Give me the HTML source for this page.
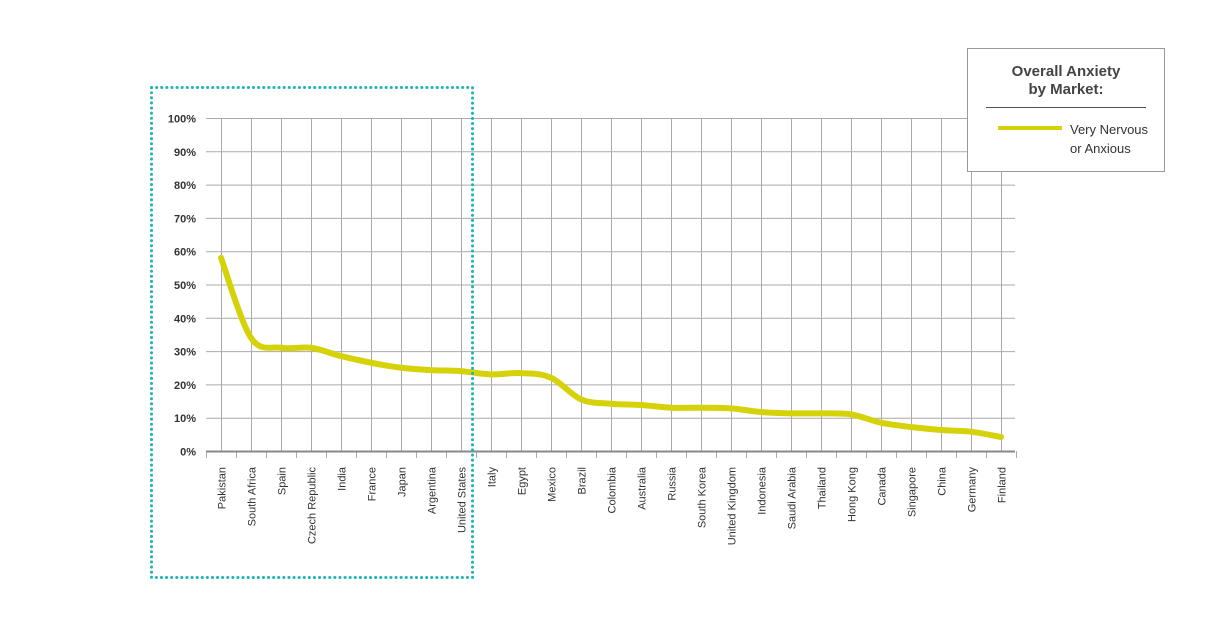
<!DOCTYPE html>
<html><head><meta charset="utf-8"><style>
body{margin:0;background:#fff;width:1220px;height:623px;overflow:hidden;font-family:"Liberation Sans",sans-serif}
svg text{font-family:"Liberation Sans",sans-serif}
</style></head><body>
<svg id="s" width="1220" height="623" xmlns="http://www.w3.org/2000/svg">
<g id="grid" stroke="#aaa" stroke-width="1"></g>
<g id="lab" font-size="11" fill="#333"></g>
<path id="curve" fill="none" stroke="#d6d20a" stroke-width="6" stroke-linecap="round" stroke-linejoin="round"/>
<rect x="151.5" y="87.5" width="321" height="490" fill="none" stroke="#1fb5b5" stroke-width="3" stroke-dasharray="0.1 5" stroke-linecap="round"/>
<rect x="967.5" y="48.5" width="197" height="123" fill="#fff" stroke="#999" stroke-width="1"/>
<text x="1066" y="76" font-size="15" font-weight="bold" fill="#444" text-anchor="middle">Overall Anxiety</text>
<text x="1066" y="94" font-size="15" font-weight="bold" fill="#444" text-anchor="middle">by Market:</text>
<line x1="986" y1="107.5" x2="1146" y2="107.5" stroke="#555" stroke-width="1"/>
<line x1="998" y1="128" x2="1062" y2="128" stroke="#d6d20a" stroke-width="4"/>
<text x="1070" y="134" font-size="13" fill="#333">Very Nervous</text>
<text x="1070" y="153" font-size="13" fill="#333">or Anxious</text>
</svg>
<script>
(function(){
var names=["Pakistan","South Africa","Spain","Czech Republic","India","France","Japan","Argentina","United States","Italy","Egypt","Mexico","Brazil","Colombia","Australia","Russia","South Korea","United Kingdom","Indonesia","Saudi Arabia","Thailand","Hong Kong","Canada","Singapore","China","Germany","Finland"];
var vals=[58,34,31,31,28.5,26.5,25,24.3,24,23,23.4,22,15.5,14.2,13.8,13,13,12.8,11.7,11.3,11.3,11,8.5,7.2,6.3,5.8,4.2];
var T=118,B=451,L=206,R=1015;
function Y(v){return B-(B-T)*v/100}
var g=document.getElementById('grid'),lab=document.getElementById('lab'),h='',t='';
for(var i=0;i<=10;i++){var y=Y(i*10)+0.5;h+='<line x1="'+L+'" y1="'+y+'" x2="'+R+'" y2="'+y+'"/>';
t+='<text x="196" y="'+(y+4)+'" text-anchor="end" font-weight="bold" font-size="11">'+(i*10)+'%</text>';}
for(var i=0;i<27;i++){var x=221+i*30+0.5;h+='<line x1="'+x+'" y1="'+T+'" x2="'+x+'" y2="'+B+'"/>';
t+='<text transform="translate('+(x+4)+',467) rotate(-90)" text-anchor="end">'+names[i]+'</text>';}
for(var i=0;i<=27;i++){var x=206+i*30+0.5;h+='<line x1="'+x+'" y1="'+B+'" x2="'+x+'" y2="'+(B+7)+'"/>';}
h+='<line x1="'+L+'" y1="'+(B+0.5)+'" x2="'+R+'" y2="'+(B+0.5)+'" stroke="#888" stroke-width="2"/>';
g.innerHTML=h;lab.innerHTML=t;
var p=vals.map(function(v,i){return [221+i*30,Y(v)]});
var d='M'+p[0][0]+','+p[0][1];
for(var i=0;i<p.length-1;i++){var p0=p[i-1]||p[i],p1=p[i],p2=p[i+1],p3=p[i+2]||p2;
d+=' C'+(p1[0]+(p2[0]-p0[0])/6)+','+(p1[1]+(p2[1]-p0[1])/6)+' '+(p2[0]-(p3[0]-p1[0])/6)+','+(p2[1]-(p3[1]-p1[1])/6)+' '+p2[0]+','+p2[1];}
document.getElementById('curve').setAttribute('d',d);
})();
</script>
</body></html>
